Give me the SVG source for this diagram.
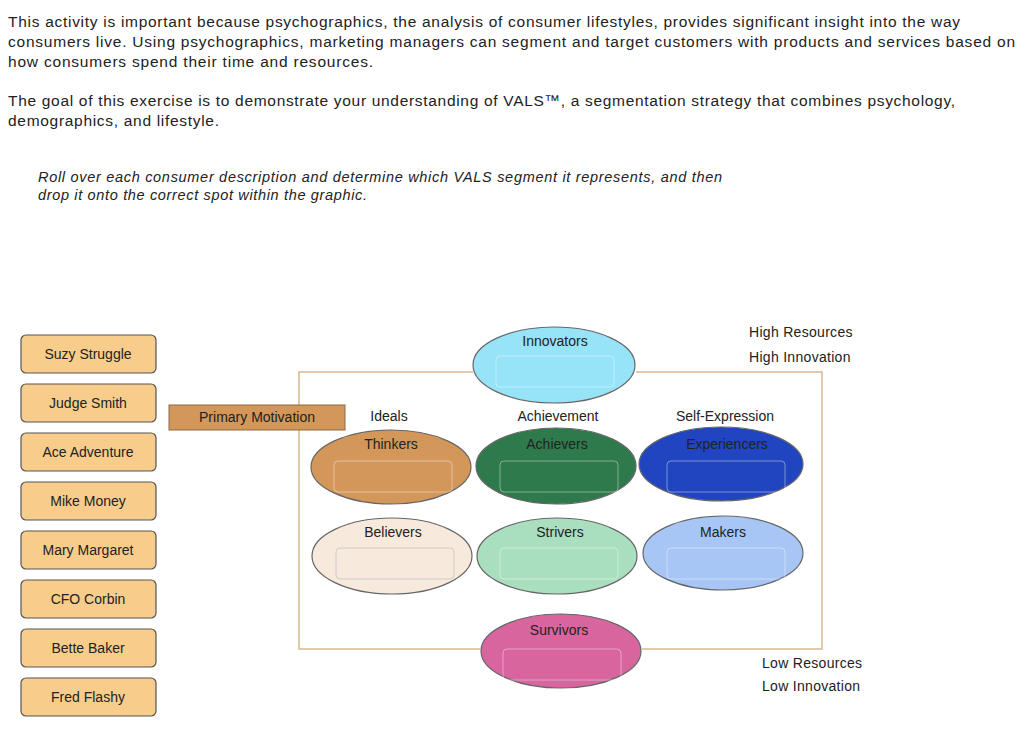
<svg xmlns="http://www.w3.org/2000/svg" width="1024" height="738" viewBox="0 0 1024 738">
<style>
text{font-family:"Liberation Sans",Arial,sans-serif;fill:#222}
.p{font-size:15.5px}
.i{font-size:14.5px;font-style:italic}
.s{font-size:14px;letter-spacing:0.3px}
.c{font-size:14px;text-anchor:middle}
.b rect{fill:#f8cd8c;stroke:#555;stroke-width:1.2}
.e ellipse{stroke:#666;stroke-width:1.2}
.e rect{fill:none;stroke:#fff;stroke-opacity:0.4;stroke-width:1}
.f{stroke:#d8b890;stroke-width:1.5;fill:none}
</style>
<text class="p" x="8" y="27" textLength="952" lengthAdjust="spacing">This activity is important because psychographics, the analysis of consumer lifestyles, provides significant insight into the way</text>
<text class="p" x="8" y="47" textLength="1007" lengthAdjust="spacing">consumers live. Using psychographics, marketing managers can segment and target customers with products and services based on</text>
<text class="p" x="8" y="67" textLength="365" lengthAdjust="spacing">how consumers spend their time and resources.</text>
<text class="p" x="8" y="106" textLength="947" lengthAdjust="spacing">The goal of this exercise is to demonstrate your understanding of VALS™, a segmentation strategy that combines psychology,</text>
<text class="p" x="8" y="126" textLength="211" lengthAdjust="spacing">demographics, and lifestyle.</text>
<text class="i" x="38" y="182" textLength="684" lengthAdjust="spacing">Roll over each consumer description and determine which VALS segment it represents, and then</text>
<text class="i" x="38" y="200" textLength="329" lengthAdjust="spacing">drop it onto the correct spot within the graphic.</text>
<g id="connectors">
<path class="f" d="M473 372H299V649H480M642 649H822V372H636"/>
</g>
<g class="b">
<g id="suzy"><rect x="21" y="335" width="135" height="38" rx="5"/><text class="c" x="88" y="359">Suzy Struggle</text></g>
<g id="judge"><rect x="21" y="384" width="135" height="38" rx="5"/><text class="c" x="88" y="408">Judge Smith</text></g>
<g id="ace"><rect x="21" y="433" width="135" height="38" rx="5"/><text class="c" x="88" y="457">Ace Adventure</text></g>
<g id="mike"><rect x="21" y="482" width="135" height="38" rx="5"/><text class="c" x="88" y="506">Mike Money</text></g>
<g id="mary"><rect x="21" y="531" width="135" height="38" rx="5"/><text class="c" x="88" y="555">Mary Margaret</text></g>
<g id="cfo"><rect x="21" y="580" width="135" height="38" rx="5"/><text class="c" x="88" y="604">CFO Corbin</text></g>
<g id="bette"><rect x="21" y="629" width="135" height="38" rx="5"/><text class="c" x="88" y="653">Bette Baker</text></g>
<g id="fred"><rect x="21" y="678" width="135" height="38" rx="5"/><text class="c" x="88" y="702">Fred Flashy</text></g>
</g>
<g id="pm"><rect x="169" y="405" width="176" height="25" fill="#d4975a" stroke="#8a6a44"/><text class="c" x="257" y="422">Primary Motivation</text></g>
<text class="c" x="389" y="421">Ideals</text>
<text class="c" x="558" y="421">Achievement</text>
<text class="c" x="725" y="421">Self-Expression</text>
<text class="s" x="749" y="337">High Resources</text>
<text class="s" x="749" y="362">High Innovation</text>
<text class="s" x="762" y="668">Low Resources</text>
<text class="s" x="762" y="691">Low Innovation</text>
<g class="e">
<g id="innovators"><ellipse cx="554" cy="365" rx="81" ry="38" fill="#97e3f8"/><rect x="496" y="356" width="118" height="31" rx="4"/><text class="c" x="555" y="346">Innovators</text></g>
<g id="thinkers"><ellipse cx="391" cy="467" rx="80" ry="37" fill="#d4975a"/><rect x="334" y="461" width="118" height="31" rx="4"/><text class="c" x="391" y="449">Thinkers</text></g>
<g id="achievers"><ellipse cx="556" cy="466" rx="80" ry="38" fill="#2e7a4c"/><rect x="500" y="461" width="118" height="31" rx="4"/><text class="c" x="557" y="449">Achievers</text></g>
<g id="experiencers"><ellipse cx="721" cy="464" rx="82" ry="37" fill="#2145c0"/><rect x="667" y="461" width="118" height="31" rx="4"/><text class="c" x="727" y="449">Experiencers</text></g>
<g id="believers"><ellipse cx="392" cy="556" rx="80" ry="38" fill="#f7e9dc"/><rect x="336" y="548" width="118" height="31" rx="4" style="stroke:#ccc;stroke-opacity:1"/><text class="c" x="393" y="537">Believers</text></g>
<g id="strivers"><ellipse cx="557" cy="556" rx="80" ry="38" fill="#a9dfbf"/><rect x="500" y="548" width="118" height="31" rx="4"/><text class="c" x="560" y="537">Strivers</text></g>
<g id="makers"><ellipse cx="723" cy="553" rx="80" ry="37" fill="#a8c6f5"/><rect x="667" y="548" width="118" height="31" rx="4"/><text class="c" x="723" y="537">Makers</text></g>
<g id="survivors"><ellipse cx="561" cy="651" rx="80" ry="37" fill="#d8659e"/><rect x="503" y="649" width="118" height="31" rx="4"/><text class="c" x="559" y="635">Survivors</text></g>
</g>
</svg>
